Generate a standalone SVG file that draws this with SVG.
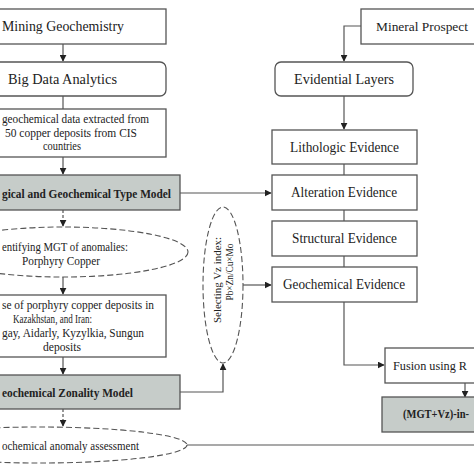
<svg xmlns="http://www.w3.org/2000/svg" width="474" height="474" viewBox="0 0 474 474">
<defs>
<marker id="ah" viewBox="0 0 10 10" refX="9" refY="5" markerWidth="7" markerHeight="7" markerUnits="userSpaceOnUse" orient="auto">
<path d="M0,0 L10,5 L0,10 z" fill="#222"/>
</marker>
</defs>
<style>
.box{fill:#fff;stroke:#555;stroke-width:1.3}
.gray{fill:#c6ccc9;stroke:#555;stroke-width:1.3}
.dash{fill:#fff;stroke:#555;stroke-width:1.1;stroke-dasharray:6,3}
.ln{fill:none;stroke:#555;stroke-width:1.2}
.dl{fill:none;stroke:#555;stroke-width:1.2;stroke-dasharray:3,2}
text{font-family:"Liberation Serif","Times New Roman",serif;fill:#222}
.t15{font-size:15px}
.t14{font-size:14px}
.t12{font-size:12.5px}
.b{font-weight:bold;font-size:13.5px}
</style>
<rect width="474" height="474" fill="#fff"/>
<g id="connectors">
<line class="ln" x1="63" y1="44" x2="63" y2="61" marker-end="url(#ah)"/>
<line class="ln" x1="63" y1="96" x2="63" y2="109"/>
<line class="ln" x1="63" y1="157" x2="63" y2="174" marker-end="url(#ah)"/>
<line class="dl" x1="63" y1="210" x2="63" y2="226" marker-end="url(#ah)"/>
<line class="ln" x1="63" y1="277" x2="63" y2="294" marker-end="url(#ah)"/>
<line class="ln" x1="63" y1="357" x2="63" y2="374" marker-end="url(#ah)"/>
<line class="dl" x1="63" y1="409" x2="63" y2="426" marker-end="url(#ah)"/>
<line class="ln" x1="180" y1="193" x2="271" y2="193" marker-end="url(#ah)"/>
<polyline class="ln" points="180,392 223,392 223,364" marker-end="url(#ah)"/>
<line class="ln" x1="243" y1="285" x2="271" y2="285" marker-end="url(#ah)"/>
<line class="ln" x1="187" y1="445" x2="474" y2="445"/>
<polyline class="ln" points="361,26 344,26 344,61" marker-end="url(#ah)"/>
<line class="ln" x1="344" y1="96" x2="344" y2="129" marker-end="url(#ah)"/>
<line class="ln" x1="344" y1="164" x2="344" y2="175"/>
<line class="ln" x1="344" y1="210" x2="344" y2="221"/>
<line class="ln" x1="344" y1="256" x2="344" y2="267"/>
<polyline class="ln" points="344,302 344,365 384,365" marker-end="url(#ah)"/>
<line class="ln" x1="465" y1="383" x2="465" y2="397" marker-end="url(#ah)"/>
</g>
<g id="mining">
<rect class="box" x="-20" y="9" width="186" height="35"/>
<text class="t15" x="2" y="31" textLength="122" lengthAdjust="spacingAndGlyphs">Mining Geochemistry</text>
</g>
<g id="bigdata">
<rect class="box" x="-20" y="62" width="186" height="34" rx="6"/>
<text class="t15" x="8" y="84" textLength="109" lengthAdjust="spacingAndGlyphs">Big Data Analytics</text>
</g>
<g id="geodata">
<rect class="box" x="-20" y="109" width="186" height="48"/>
<text class="t12" x="2" y="123" textLength="147" lengthAdjust="spacingAndGlyphs">geochemical  data extracted from</text>
<text class="t12" x="5" y="137" textLength="132" lengthAdjust="spacingAndGlyphs">50 copper deposits from CIS</text>
<text class="t12" x="43" y="150" textLength="38" lengthAdjust="spacingAndGlyphs">countries</text>
</g>
<g id="mgt">
<rect class="gray" x="-20" y="175" width="200" height="35"/>
<text class="b" x="2" y="198" textLength="169" lengthAdjust="spacingAndGlyphs">gical and Geochemical Type Model</text>
</g>
<g id="identify">
<ellipse class="dash" cx="63" cy="252" rx="125" ry="25"/>
<text class="t12" x="2" y="251" textLength="126" lengthAdjust="spacingAndGlyphs">entifying  MGT of anomalies:</text>
<text class="t12" x="22" y="265" textLength="78" lengthAdjust="spacingAndGlyphs">Porphyry Copper</text>
</g>
<g id="case">
<rect class="box" x="-20" y="295" width="186" height="62"/>
<text class="t12" x="2" y="309" textLength="152" lengthAdjust="spacingAndGlyphs">se of porphyry  copper deposits in</text>
<text class="t12" x="13" y="323" textLength="79" lengthAdjust="spacingAndGlyphs">Kazakhstan, and Iran:</text>
<text class="t12" x="2" y="337" textLength="142" lengthAdjust="spacingAndGlyphs">gay, Aidarly,  Kyzylkia,  Sungun</text>
<text class="t12" x="43" y="351" textLength="38" lengthAdjust="spacingAndGlyphs">deposits</text>
</g>
<g id="zonality">
<rect class="gray" x="-20" y="375" width="200" height="34"/>
<text class="b" x="2" y="397" textLength="131" lengthAdjust="spacingAndGlyphs">eochemical Zonality  Model</text>
</g>
<g id="anomaly">
<ellipse class="dash" cx="40" cy="445" rx="147" ry="18"/>
<text class="t12" x="2" y="450" textLength="137" lengthAdjust="spacingAndGlyphs">ochemical  anomaly  assessment</text>
</g>
<g id="vz">
<ellipse class="dash" cx="223" cy="285" rx="20" ry="78"/>
<text font-size="11" transform="translate(221,280) rotate(-90)" text-anchor="middle" textLength="86" lengthAdjust="spacingAndGlyphs">Selecting  Vz index:</text>
<text font-size="11" transform="translate(233,272) rotate(-90)" text-anchor="middle" textLength="57" lengthAdjust="spacingAndGlyphs">Pb×Zn/Cu×Mo</text>
</g>
<g id="mpm">
<rect class="box" x="361" y="9" width="130" height="35"/>
<text font-size="13.5" x="376" y="31" textLength="92" lengthAdjust="spacingAndGlyphs">Mineral Prospect</text>
</g>
<g id="evidential">
<rect class="box" x="275" y="62" width="138" height="34" rx="6"/>
<text class="t15" x="294" y="84" textLength="100" lengthAdjust="spacingAndGlyphs">Evidential Layers</text>
</g>
<g id="litho">
<rect class="box" x="272" y="130" width="145" height="34"/>
<text class="t14" x="290" y="152" textLength="109" lengthAdjust="spacingAndGlyphs">Lithologic  Evidence</text>
</g>
<g id="alteration">
<rect class="box" x="272" y="175" width="145" height="35"/>
<text class="t14" x="291" y="197" textLength="106" lengthAdjust="spacingAndGlyphs">Alteration  Evidence</text>
</g>
<g id="structural">
<rect class="box" x="272" y="221" width="145" height="35"/>
<text class="t14" x="292" y="243" textLength="105" lengthAdjust="spacingAndGlyphs">Structural  Evidence</text>
</g>
<g id="geochem">
<rect class="box" x="272" y="267" width="145" height="35"/>
<text class="t14" x="283" y="289" textLength="122" lengthAdjust="spacingAndGlyphs">Geochemical  Evidence</text>
</g>
<g id="fusion">
<rect class="box" x="385" y="348" width="110" height="35"/>
<text font-size="12.5" x="393" y="370" textLength="74" lengthAdjust="spacingAndGlyphs">Fusion using R</text>
</g>
<g id="result">
<rect class="gray" x="382" y="397" width="110" height="35"/>
<text font-size="11.5" font-weight="bold" x="403" y="418" textLength="66" lengthAdjust="spacingAndGlyphs">(MGT+Vz)-in-</text>
</g>
</svg>
